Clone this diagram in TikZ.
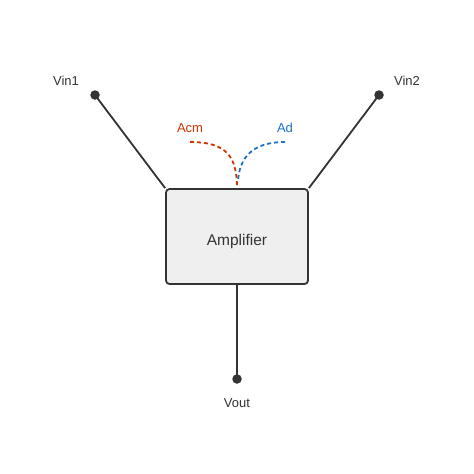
\documentclass[tikz,border=0pt]{standalone}
\usepackage{fontspec}
\setmainfont{Liberation Sans}
\definecolor{ink}{HTML}{333333}
\definecolor{boxfill}{HTML}{EFEFEF}
\definecolor{cmred}{HTML}{CC3300}
\definecolor{dblue}{HTML}{1F6FC5}
\tikzset{
  wire/.style={draw=ink, line width=1.8pt},
  term/.style={circle, fill=ink, inner sep=0pt, minimum size=9.5pt},
  lbl/.style={text=ink, font=\fontsize{13}{15}\selectfont},
  amp/.style={draw=ink, fill=boxfill, line width=1.8pt, rounded corners=3.5pt, minimum width=142pt, minimum height=95pt, inner sep=0pt},
  amptext/.style={text=ink, font=\fontsize{15.5}{18}\selectfont, inner sep=0pt},
  gain/.style={line width=1.8pt, dash pattern=on 4pt off 3pt},
}
\begin{document}
\begin{tikzpicture}[x=1pt,y=-1pt]
\useasboundingbox (0,0) rectangle (474,474);
\node[amp] (A) at (237,236.5) {};
\node[amptext] (At) at (237,241) {Amplifier};
\node[term] (v1) at (95,95) {};
\node[term] (v2) at (379,95) {};
\node[term] (vo) at (237,379) {};
\node[lbl] (l1) at (66,81) {Vin1};
\node[lbl] (l2) at (407,81) {Vin2};
\node[lbl] (lo) at (237,403.5) {Vout};
\node[lbl, text=cmred] (acm) at (190,128) {Acm};
\node[lbl, text=dblue] (ad) at (285,128) {Ad};
\coordinate (cs) at (190,142);
\coordinate (ds) at (285,142);
\coordinate (dm) at (238,182);
\draw[wire] (v1.center) -- (A.north west);
\draw[wire] (v2.center) -- (A.north east);
\draw[wire] (A.south) -- (vo.center);
\draw[gain, cmred] (cs) .. controls (228,142) and (237,158) .. (A.north);
\draw[gain, dblue] (ds) .. controls (252,142) and (239,158) .. (dm);
\end{tikzpicture}
\end{document}
